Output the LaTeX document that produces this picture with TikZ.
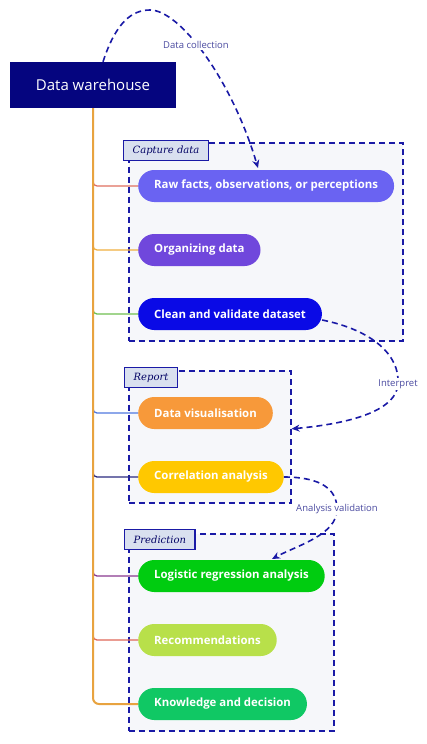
\documentclass[tikz,border=0pt]{standalone}
\usepackage{fontspec}
\setmainfont{Open Sans}
\newfontfamily\grpfont{DejaVu Serif}
\usetikzlibrary{arrows.meta}
\definecolor{dwnavy}{HTML}{05057F}
\definecolor{dashnavy}{HTML}{1A1AA6}
\definecolor{grpfill}{HTML}{F6F7FA}
\definecolor{titfill}{HTML}{D9E0EF}
\definecolor{lblcol}{HTML}{4A4AA0}
\definecolor{trunkcol}{HTML}{E8A33F}
\definecolor{cRaw}{HTML}{6A63F2}
\definecolor{cOrg}{HTML}{7047DC}
\definecolor{cClean}{HTML}{0A0AE6}
\definecolor{cVis}{HTML}{F7993A}
\definecolor{cCorr}{HTML}{FFC800}
\definecolor{cLog}{HTML}{00CC10}
\definecolor{cRec}{HTML}{B8E04A}
\definecolor{cKnow}{HTML}{10C864}
\definecolor{bRaw}{HTML}{E07060}
\definecolor{bOrg}{HTML}{F0B040}
\definecolor{bClean}{HTML}{70C050}
\definecolor{bVis}{HTML}{5078E0}
\definecolor{bCorr}{HTML}{2A2A80}
\definecolor{bLog}{HTML}{8A3A90}
\definecolor{bRec}{HTML}{E06858}
\tikzset{
  pill/.style={fill=#1, text=white, rounded corners=16pt, minimum height=32pt,
    inner xsep=16pt, anchor=west, font=\bfseries\fontsize{11.4}{13}\selectfont},
  group/.style={draw=dashnavy, dash pattern=on 6pt off 4pt, line width=1.6pt, fill=grpfill,
    anchor=north west, inner sep=0pt},
  grptitle/.style={draw=dashnavy, line width=1.4pt, fill=titfill, anchor=north west,
    inner xsep=9pt, minimum height=20pt, font=\grpfont\itshape\fontsize{10}{12}\selectfont, text=dwnavy!80!black},
  branch/.style={draw=#1, line width=1.3pt, rounded corners=4pt},
  flow/.style={draw=dashnavy, dash pattern=on 6pt off 4pt, line width=1.6pt, -{Stealth[length=8pt,width=7pt]}},
  flowlbl/.style={fill=white, inner sep=1pt, text=lblcol, font=\fontsize{9.5}{11}\selectfont},
}
\begin{document}
\begin{tikzpicture}[x=1pt,y=-1pt]
\useasboundingbox[fill=white] (0,0) rectangle (426,744);
% groups
\node[group, minimum width=274pt, minimum height=198pt] (gcap) at (128,142) {};
\node[group, minimum width=162pt, minimum height=132pt] (grep) at (128,370) {};
\node[group, minimum width=205pt, minimum height=197pt] (gpre) at (128,533) {};
\node[grptitle] (tcap) at (123,140) {Capture data};
\node[grptitle] (trep) at (124,367) {Report};
\node[grptitle] (tpre) at (124,529) {Prediction};
% main node
\node[fill=dwnavy, text=white, minimum width=166pt, minimum height=46pt, inner sep=0pt,
  font=\fontsize{15}{18}\selectfont] (dw) at (93,85) {Data warehouse};
% pills
\node[pill=cRaw] (raw) at (138,186) {Raw facts, observations, or perceptions};
\node[pill=cOrg] (org) at (138,250) {Organizing data};
\node[pill=cClean] (clean) at (138,314) {Clean and validate dataset};
\node[pill=cVis] (vis) at (138,413) {Data visualisation};
\node[pill=cCorr] (corr) at (138,477) {Correlation analysis};
\node[pill=cLog] (logi) at (138,576) {Logistic regression analysis};
\node[pill=cRec] (rec) at (138,640) {Recommendations};
\node[pill=cKnow] (know) at (138,704) {Knowledge and decision};
% branches
\draw[branch=bRaw] (dw.south) |- (raw.west);
\draw[branch=bOrg] (dw.south) |- (org.west);
\draw[branch=bClean] (dw.south) |- (clean.west);
\draw[branch=bVis] (dw.south) |- (vis.west);
\draw[branch=bCorr] (dw.south) |- (corr.west);
\draw[branch=bLog] (dw.south) |- (logi.west);
\draw[branch=bRec] (dw.south) |- (rec.west);
\draw[branch=trunkcol, line width=2pt, rounded corners=6pt] (dw.south) |- (know.west);
% flows
\draw[flow] ([xshift=10pt]dw.north) .. controls (116,22) and (132,10) .. (150,10)
  .. controls (180,10) and (232,80) .. (258,168);
\node[flowlbl] (lcol) at (196,45) {Data collection};
\draw[flow] ([yshift=-6pt]clean.east) .. controls (372,330) and (400,355) .. (398,384)
  .. controls (396,415) and (335,425) .. ([yshift=8pt]grep.east);
\node[flowlbl] (lint) at (398,384) {Interpret};
\draw[flow] (corr.east) .. controls (322,477) and (337,490) .. (337,509)
  .. controls (337,535) and (298,545) .. (272,559);
\node[flowlbl] (lan) at (337,509) {Analysis validation};
\end{tikzpicture}
\end{document}
